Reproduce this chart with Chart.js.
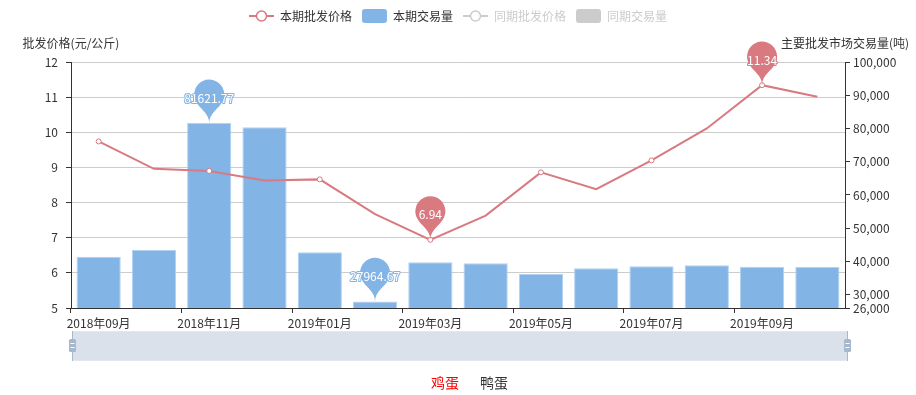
<!DOCTYPE html>
<html>
<head>
<meta charset="utf-8">
<script src="https://cdn.jsdelivr.net/npm/chart.js@4/dist/chart.umd.min.js"></script>
<style>
  body { margin: 0; background: #fff; }
  #wrap { position: relative; width: 916px; height: 395px; }
  #tabs { position: absolute; left: 431px; top: 373px; font: 14px "Microsoft YaHei", "Noto Sans CJK SC", sans-serif; line-height: 18px; }
  #tabs span { color: #333; margin-right: 21px; }
  #tabs span.on { color: #f00; }
</style>
</head>
<body>
<div id="wrap">
  <canvas id="chart" width="916" height="395"></canvas>
  <div id="tabs"><span class="on">鸡蛋</span><span>鸭蛋</span></div>
</div>
<script>
// 数据
const months = ['2018年09月', '2018年10月', '2018年11月', '2018年12月', '2019年01月', '2019年02月', '2019年03月',
  '2019年04月', '2019年05月', '2019年06月', '2019年07月', '2019年08月', '2019年09月', '2019年10月'];
const priceData = [9.74, 8.96, 8.90, 8.63, 8.66, 7.67, 6.94, 7.63, 8.86, 8.38, 9.20, 10.11, 11.34, 11.01];
const volumeData = [41430, 43450, 81621.77, 80350, 42750, 27964.67, 39750, 39440, 36230, 37940, 38540, 38840, 38430, 38330];
const priceTicks = [5, 6, 7, 8, 9, 10, 11, 12];
const volumeTicks = [26000, 30000, 40000, 50000, 60000, 70000, 80000, 90000, 100000];
const legendNames = ['本期批发价格', '本期交易量', '同期批发价格', '同期交易量'];

const RED = '#d87a80';
const BLUE = '#82b4e6';
const GREY = '#cccccc';

Chart.defaults.font.family = '"Microsoft YaHei", "Noto Sans CJK SC", sans-serif';
Chart.defaults.font.size = 12;
Chart.defaults.color = '#333';

// 图例图标
function lineIcon(color) {
  const c = document.createElement('canvas');
  c.width = 25; c.height = 14;
  const g = c.getContext('2d');
  g.strokeStyle = color;
  g.lineWidth = 2;
  g.beginPath(); g.moveTo(0, 7); g.lineTo(25, 7); g.stroke();
  g.beginPath(); g.arc(12.5, 7, 5, 0, Math.PI * 2);
  g.fillStyle = '#fff'; g.fill();
  g.lineWidth = 1.5; g.stroke();
  return c;
}
function rectIcon(color) {
  const c = document.createElement('canvas');
  c.width = 25; c.height = 14;
  const g = c.getContext('2d');
  g.fillStyle = color;
  g.beginPath(); g.roundRect(0, 0, 25, 14, 3); g.fill();
  return c;
}

// 标注气泡
function drawPin(ctx, x, y, color, text) {
  const w = 30, h = 50;
  const r = w / 2;
  const dy = r * r / (h - r);
  const cy = y - h + r + dy;
  const angle = Math.asin(dy / r);
  const dx = Math.cos(angle) * r;
  const tanX = Math.sin(angle), tanY = Math.cos(angle);
  const cpLen = r * 0.6, cpLen2 = r * 0.7;
  ctx.save();
  ctx.beginPath();
  ctx.moveTo(x - dx, cy + dy);
  ctx.arc(x, cy, r, Math.PI - angle, Math.PI * 2 + angle);
  ctx.bezierCurveTo(x + dx - tanX * cpLen, cy + dy + tanY * cpLen, x, y - cpLen2, x, y);
  ctx.bezierCurveTo(x, y - cpLen2, x - dx + tanX * cpLen, cy + dy + tanY * cpLen, x - dx, cy + dy);
  ctx.closePath();
  ctx.fillStyle = color;
  ctx.fill();
  ctx.font = '12px "Microsoft YaHei", "Noto Sans CJK SC", sans-serif';
  ctx.textAlign = 'center';
  ctx.textBaseline = 'middle';
  ctx.lineWidth = 2;
  ctx.lineJoin = 'round';
  ctx.strokeStyle = color;
  ctx.strokeText(text, x, y - h / 2);
  ctx.fillStyle = '#fff';
  ctx.fillText(text, x, y - h / 2);
  ctx.restore();
}

const pinPlugin = {
  id: 'pins',
  afterDatasetsDraw(chart) {
    const ctx = chart.ctx;
    chart.data.datasets.forEach((ds, di) => {
      const meta = chart.getDatasetMeta(di);
      const vals = ds.data;
      const maxI = vals.indexOf(Math.max(...vals));
      const minI = vals.indexOf(Math.min(...vals));
      const color = ds.type === 'line' ? RED : BLUE;
      [maxI, minI].forEach(i => {
        const el = meta.data[i];
        drawPin(ctx, el.x, el.y, color, String(vals[i]));
      });
    });
  }
};

const extrasPlugin = {
  id: 'extras',
  afterDraw(chart) {
    const ctx = chart.ctx;
    const area = chart.chartArea;
    const yl = chart.scales.y, yr = chart.scales.y1;
    ctx.save();
    // 坐标轴标题
    ctx.font = '12px "Microsoft YaHei", "Noto Sans CJK SC", sans-serif';
    ctx.fillStyle = '#333';
    ctx.textAlign = 'center';
    ctx.textBaseline = 'middle';
    ctx.fillText('批发价格(元/公斤)', yl.right, area.top - 19);
    ctx.fillText('主要批发市场交易量(吨)', yr.left, area.top - 19);

    // 缩放滑块
    const left = area.left + 1.5, right = area.right + 2.5;
    const top = 331, bottom = 361;
    ctx.fillStyle = '#dbe1ea';
    ctx.fillRect(left, top, right - left, bottom - top);
    ctx.strokeStyle = '#e3e8f0';
    ctx.lineWidth = 1;
    ctx.strokeRect(left, top + 0.5, right - left, bottom - top - 1);
    ctx.strokeStyle = '#a7b7cc';
    [left, right].forEach(hx => {
      ctx.beginPath(); ctx.moveTo(hx, top); ctx.lineTo(hx, bottom); ctx.stroke();
      ctx.fillStyle = '#a7b7cc';
      ctx.beginPath(); ctx.roundRect(hx - 3.5, 339, 7, 13, 1.5); ctx.fill();
      ctx.strokeStyle = '#fff';
      ctx.beginPath();
      ctx.moveTo(hx - 2, 343.5); ctx.lineTo(hx + 2, 343.5);
      ctx.moveTo(hx - 2, 347.5); ctx.lineTo(hx + 2, 347.5);
      ctx.stroke();
      ctx.strokeStyle = '#a7b7cc';
    });
    ctx.restore();
  }
};

const ctx = document.getElementById('chart').getContext('2d');
new Chart(ctx, {
  data: {
    labels: months,
    datasets: [{
      type: 'line',
      label: legendNames[0],
      data: priceData,
      yAxisID: 'y',
      borderColor: RED,
      borderWidth: 2,
      tension: 0,
      pointRadius: c => (c.dataIndex % 2 === 0 ? 2.5 : 0),
      pointBackgroundColor: '#fff',
      pointBorderColor: RED,
      pointBorderWidth: 1
    }, {
      type: 'bar',
      label: legendNames[1],
      data: volumeData,
      yAxisID: 'y1',
      backgroundColor: BLUE,
      borderColor: '#b3d1f0',
      borderWidth: 1,
      barPercentage: 0.8,
      categoryPercentage: 1
    }]
  },
  options: {
    responsive: false,
    animation: false,
    layout: { padding: 0 },
    plugins: {
      tooltip: { enabled: false },
      // 空标题，只用来在图例和绘图区之间留出轴标题的位置
      title: {
        display: true,
        text: '',
        weight: 500,
        padding: { top: 0, bottom: 15.6 }
      },
      legend: {
        position: 'top',
        onClick: () => {},
        labels: {
          usePointStyle: true,
          pointStyleWidth: 25,
          padding: 10,
          generateLabels: () => [
            { text: legendNames[0], pointStyle: lineIcon(RED), fontColor: '#333', lineWidth: 0, hidden: false },
            { text: legendNames[1], pointStyle: rectIcon(BLUE), fontColor: '#333', lineWidth: 0, hidden: false },
            { text: legendNames[2], pointStyle: lineIcon(GREY), fontColor: GREY, lineWidth: 0, hidden: false },
            { text: legendNames[3], pointStyle: rectIcon(GREY), fontColor: GREY, lineWidth: 0, hidden: false }
          ]
        }
      }
    },
    scales: {
      x: {
        type: 'category',
        offset: true,
        afterFit: s => { s.height = 87; },
        grid: {
          offset: true,
          drawOnChartArea: false,
          tickLength: 5,
          tickColor: c => (c.index % 2 === 0 ? '#333' : 'rgba(0,0,0,0)')
        },
        border: { color: '#333' },
        ticks: {
          autoSkip: false,
          maxRotation: 0,
          padding: 3,
          callback: (v, i) => (i % 2 === 0 ? months[i] : '')
        }
      },
      y: {
        position: 'left',
        min: priceTicks[0],
        max: priceTicks[priceTicks.length - 1],
        afterFit: s => { s.width = 71; },
        afterBuildTicks: s => { s.ticks = priceTicks.map(v => ({ value: v })); },
        grid: { color: '#ccc', tickColor: '#333', tickLength: 5 },
        border: { color: '#333' },
        ticks: { padding: 8 }
      },
      y1: {
        position: 'right',
        min: volumeTicks[0],
        max: volumeTicks[volumeTicks.length - 1],
        afterFit: s => { s.width = 71; },
        afterBuildTicks: s => { s.ticks = volumeTicks.map(v => ({ value: v })); },
        grid: { drawOnChartArea: false, tickColor: '#333', tickLength: 5 },
        border: { color: '#333' },
        ticks: { padding: 3, callback: v => v.toLocaleString('en-US') }
      }
    }
  },
  plugins: [pinPlugin, extrasPlugin]
});
</script>
</body>
</html>
